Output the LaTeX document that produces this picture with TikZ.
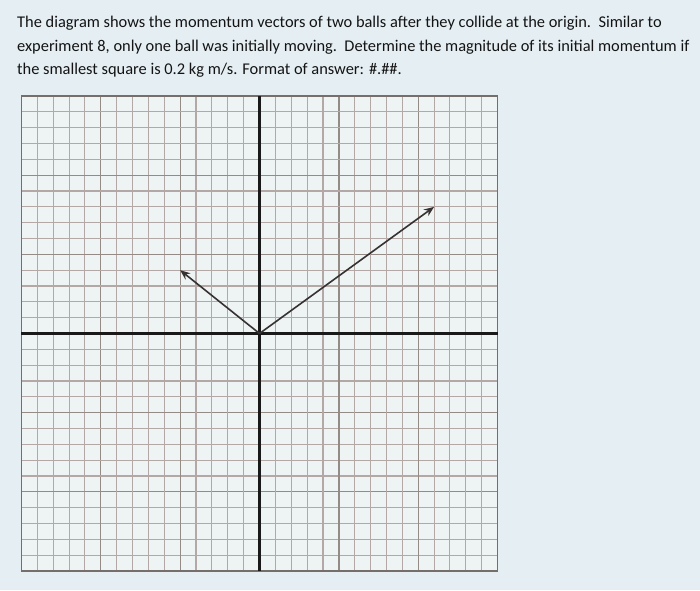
\documentclass[tikz,border=0pt]{standalone}
\usepackage{fontspec}
\setmainfont{Carlito}
\usetikzlibrary{arrows.meta}
\definecolor{bgc}{HTML}{E4EEF3}
\definecolor{paper}{HTML}{EEF3F4}
\definecolor{minorc}{HTML}{B4A8A6}
\definecolor{majorc}{HTML}{948A86}
\definecolor{inkc}{HTML}{141414}
\definecolor{vecc}{HTML}{363232}
\tikzset{
  qtext/.style={anchor=base west, inner sep=0pt, text=inkc, font=\fontsize{16.4}{19}\selectfont},
  minorline/.style={draw=minorc, line width=1.1pt},
  majorline/.style={draw=majorc, line width=1.3pt},
  axisline/.style={draw=black!90, line width=2.8pt},
  vec/.style={draw=vecc, line width=1.6pt, -{Stealth[length=10pt,width=8pt]}}
}
\begin{document}
\begin{tikzpicture}[x=1pt,y=-1pt]
\useasboundingbox (0,0) rectangle (700,590);
\fill[bgc] (0,0) rectangle (700,590);
\node[qtext] (l1) at (17,27) {The diagram shows the momentum vectors of two balls after they collide at the origin.\ \ Similar to};
\node[qtext] (l2) at (17,51) {experiment 8, only one ball was initially moving.\ \ Determine the magnitude of its initial momentum if};
\node[qtext] (l3) at (17,74) {the smallest square is 0.2 kg m/s. Format of answer: \#.\#\#.};
\begin{scope}[shift={(259.5,333.5)}, x=15.87pt, y=15.83pt]
  \fill[paper] (-15,-15) rectangle (15,15);
  \foreach \i in {-14,...,14} {
    \pgfmathtruncatemacro{\m}{mod(abs(\i),5)}
    \ifnum\m=0
      \draw[majorline] (\i,-15) -- (\i,15);
      \draw[majorline] (-15,\i) -- (15,\i);
    \else
      \draw[minorline] (\i,-15) -- (\i,15);
      \draw[minorline] (-15,\i) -- (15,\i);
    \fi
  }
  \draw[draw=majorc!80!black, line width=1.4pt] (-15,-15) rectangle (15,15);
  \coordinate (o) at (0,0);
  \coordinate (p1) at (-5,4);
  \coordinate (p2) at (11,8);
  \draw[axisline] (-15,0) -- (15,0);
  \draw[axisline] (0,-15) -- (0,15);
  \draw[vec] (o) -- (p1);
  \draw[vec] (o) -- (p2);
\end{scope}
\end{tikzpicture}
\end{document}
